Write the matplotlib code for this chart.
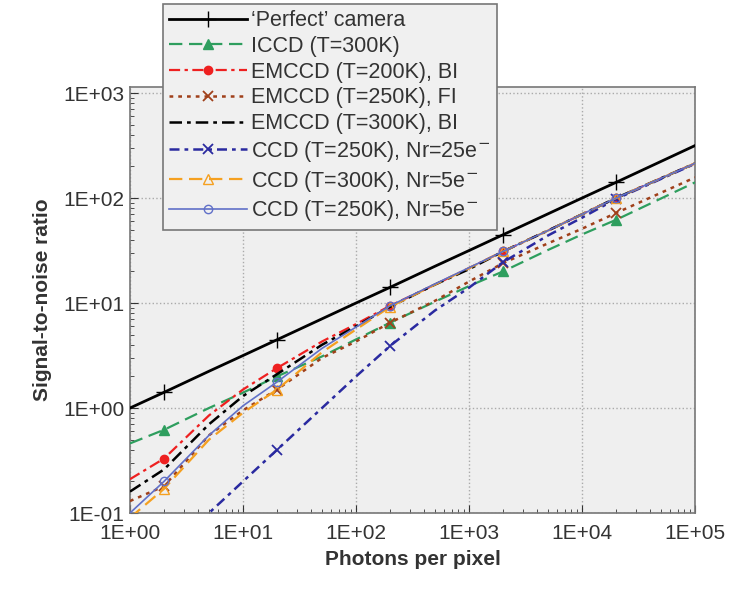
import matplotlib
matplotlib.use("Agg")
import matplotlib.pyplot as plt
from matplotlib.ticker import FixedLocator, FuncFormatter, LogLocator, NullFormatter

plt.rcParams['font.family'] = ['Liberation Sans', 'DejaVu Sans']

photons = [1, 2, 5, 10, 20, 50, 100, 200, 500, 1000, 2000, 5000, 10000, 20000, 100000]
perfect = [1.0, 1.41, 2.24, 3.16, 4.47, 7.07, 10, 14.1, 22.4, 31.6, 44.7, 70.7, 100, 141, 316]
iccd300 = [0.46, 0.62, 1.0, 1.4, 2.0, 3.1, 4.5, 6.5, 10.3, 14.5, 20, 32, 45, 62, 141]
emccd200_bi = [0.21, 0.33, 0.85, 1.5, 2.4, 4.3, 6.3, 9.4, 15, 21.5, 31, 49, 70, 100, 214]
emccd250_fi = [0.13, 0.18, 0.55, 0.95, 1.5, 3.0, 4.3, 6.5, 10.5, 16, 24, 37, 51, 72, 157]
emccd300_bi = [0.16, 0.26, 0.7, 1.3, 2.1, 4.0, 6.0, 9.2, 15, 21, 31, 49, 70, 100, 214]
ccd250_nr25 = [0.02, 0.04, 0.1, 0.2, 0.4, 1.0, 2.0, 3.9, 8.5, 14, 24.5, 44, 65, 98, 212]
ccd300_nr5 = [0.09, 0.17, 0.5, 0.9, 1.5, 3.4, 5.6, 9.2, 15, 21.5, 31, 49, 70, 100, 214]
ccd250_nr5 = [0.1, 0.2, 0.55, 1.05, 1.77, 3.7, 5.9, 9.4, 15.2, 21.7, 31, 49, 70, 100, 214]

labels = ["\u2018Perfect\u2019 camera", "ICCD (T=300K)", "EMCCD (T=200K), BI",
          "EMCCD (T=250K), FI", "EMCCD (T=300K), BI", "CCD (T=250K), Nr=25e$^{-}$",
          "CCD (T=300K), Nr=5e$^{-}$", "CCD (T=250K), Nr=5e$^{-}$"]
x_ticks = [1, 10, 100, 1000, 10000, 100000]
y_ticks = [0.1, 1, 10, 100, 1000]
tick_text = {0.1: "1E-01", 1: "1E+00", 10: "1E+01", 100: "1E+02", 1000: "1E+03", 10000: "1E+04", 100000: "1E+05"}

fig = plt.figure(figsize=(7.32, 5.9), dpi=100)
ax = fig.add_axes([0.1776, 0.1305, 0.772, 0.722])
ax.set_facecolor('#efefef')
mk = [1, 4, 7, 10, 13]

styles = [
    (perfect, dict(color='black', ls='-', lw=2, marker='+', ms=11, mew=1)),
    (iccd300, dict(color='#2e9e5e', ls=(0, (6, 3)), lw=1.6, marker='^', ms=7)),
    (emccd200_bi, dict(color='#ee2020', ls=(0, (5, 2, 1.5, 2)), lw=1.6, marker='o', ms=6)),
    (emccd250_fi, dict(color='#a0401a', ls=(0, (1.5, 2)), lw=1.8, marker='x', ms=7, mew=1.3)),
    (emccd300_bi, dict(color='black', ls=(0, (5, 2, 1.5, 2)), lw=1.8, marker=None)),
    (ccd250_nr25, dict(color='#2a2aa0', ls=(0, (4, 2, 1.5, 2)), lw=1.8, marker='x', ms=7, mew=1.3)),
    (ccd300_nr5, dict(color='#f5a020', ls=(0, (6, 3)), lw=1.6, marker='^', ms=7, mfc='none')),
    (ccd250_nr5, dict(color='#6070c8', ls='-', lw=1.2, marker='o', ms=6, mfc='none')),
]
for (vals, st), lab in zip(styles, labels):
    ax.plot(photons, vals, label=lab, markevery=mk, zorder=3, **st)

ax.set_xscale('log')
ax.set_yscale('log')
ax.set_xlim(1, 1e5)
ax.set_ylim(0.1, 1140)
ax.xaxis.set_major_locator(FixedLocator(x_ticks))
ax.yaxis.set_major_locator(FixedLocator(y_ticks))
fmt = FuncFormatter(lambda v, p: tick_text.get(round(v, 4) if v < 1 else int(round(v)), ""))
ax.xaxis.set_major_formatter(fmt)
ax.yaxis.set_major_formatter(fmt)
ax.xaxis.set_minor_locator(LogLocator(subs=range(2, 10)))
ax.yaxis.set_minor_locator(LogLocator(subs=range(2, 10)))
ax.xaxis.set_minor_formatter(NullFormatter())
ax.yaxis.set_minor_formatter(NullFormatter())
ax.tick_params(which='both', direction='in', top=False, right=False, labelsize=15, colors='#333333')
ax.tick_params(axis='x', which='major', pad=8)
ax.tick_params(axis='y', which='major', pad=4)
ax.tick_params(which='major', length=6)
ax.tick_params(which='minor', length=3)
ax.grid(True, which='major', ls=':', color='#aaaaaa', lw=1)
for s in ax.spines.values():
    s.set_color('#777777')
    s.set_linewidth(1.2)
ax.set_xlabel("Photons per pixel", fontsize=15, fontweight='bold', color='#333333', labelpad=5)
ax.set_ylabel("Signal-to-noise ratio", fontsize=15, fontweight='bold', color='#333333', labelpad=8)

leg = fig.legend(loc='upper left', bbox_to_anchor=(0.208, 1.012), fontsize=15.5,
                 handlelength=3.6, labelspacing=0.22, borderpad=0.3, handletextpad=0.2,
                 fancybox=False, framealpha=1, facecolor='#f0f0f0', edgecolor='#777777')
for t in leg.get_texts():
    t.set_color('#333333')
leg.get_frame().set_linewidth(1.2)

fig.savefig('out.png', dpi=100)
